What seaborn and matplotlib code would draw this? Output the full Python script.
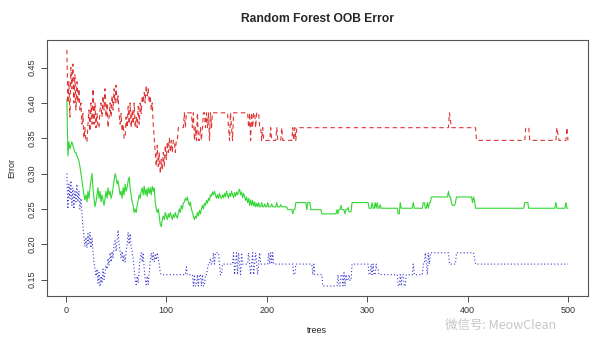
import numpy as np
import pandas as pd
import matplotlib
matplotlib.use("Agg")
import matplotlib.pyplot as plt
import seaborn as sns

# OOB error per number of trees as (error, number of trees it holds)
oob_runs = [
    (0.405, 1), (0.325, 1), (0.345, 1), (0.335, 1), (0.34, 1), (0.345, 1), (0.34, 1), (0.335, 1), (0.33, 1), (0.33, 1),
    (0.325, 1), (0.322, 1), (0.318, 1), (0.31, 1), (0.30, 1), (0.29, 1), (0.28, 1), (0.27, 1), (0.263, 1), (0.27, 1),
    (0.26, 1), (0.275, 1), (0.265, 1), (0.28, 1), (0.29, 1), (0.30, 1), (0.28, 1), (0.265, 1), (0.253, 1), (0.26, 1),
    (0.27, 1), (0.28, 1), (0.265, 1), (0.275, 1), (0.26, 1), (0.27, 1), (0.263, 1), (0.255, 1), (0.265, 1), (0.275, 1),
    (0.265, 1), (0.28, 1), (0.27, 1), (0.275, 1), (0.265, 1), (0.27, 1), (0.28, 1), (0.29, 1), (0.30, 1), (0.295, 1),
    (0.285, 1), (0.29, 1), (0.28, 1), (0.27, 1), (0.275, 1), (0.265, 1), (0.28, 1), (0.27, 1), (0.285, 1), (0.275, 1),
    (0.28, 1), (0.29, 1), (0.295, 1), (0.28, 1), (0.27, 1), (0.26, 1), (0.255, 1), (0.245, 1), (0.25, 1), (0.245, 1),
    (0.255, 1), (0.262, 1), (0.27, 1), (0.265, 1), (0.275, 1), (0.28, 1), (0.27, 1), (0.282, 1), (0.27, 1), (0.278, 1),
    (0.268, 1), (0.28, 1), (0.272, 1), (0.28, 1), (0.27, 1), (0.282, 1), (0.275, 1), (0.28, 1), (0.26, 1), (0.25, 1),
    (0.245, 1), (0.25, 1), (0.24, 1), (0.228, 1), (0.225, 1), (0.235, 1), (0.24, 1), (0.235, 1), (0.245, 1), (0.24, 1),
    (0.235, 1), (0.243, 1), (0.238, 1), (0.245, 1), (0.24, 1), (0.235, 1), (0.242, 1), (0.238, 1), (0.245, 1), (0.24, 1),
    (0.237, 1), (0.243, 1), (0.25, 1), (0.245, 1), (0.255, 1), (0.25, 1), (0.258, 1), (0.26, 1), (0.265, 1), (0.262, 1),
    (0.267, 1), (0.26, 1), (0.255, 1), (0.26, 1), (0.25, 1), (0.245, 1), (0.24, 1), (0.235, 1), (0.24, 1), (0.237, 1),
    (0.245, 1), (0.24, 1), (0.248, 1), (0.243, 1), (0.25, 1), (0.255, 1), (0.25, 1), (0.258, 1), (0.255, 1), (0.262, 1),
    (0.258, 1), (0.265, 1), (0.262, 1), (0.27, 1), (0.268, 1), (0.274, 1), (0.27, 1), (0.275, 1), (0.27, 1), (0.265, 1),
    (0.27, 1), (0.265, 1), (0.272, 1), (0.267, 1), (0.265, 1), (0.27, 1), (0.266, 1), (0.272, 1), (0.267, 1), (0.275, 1),
    (0.27, 1), (0.265, 1), (0.272, 1), (0.268, 1), (0.275, 1), (0.27, 1), (0.266, 1), (0.273, 1), (0.268, 1), (0.274, 1),
    (0.27, 1), (0.275, 1), (0.278, 1), (0.27, 1), (0.274, 1), (0.266, 1), (0.272, 1), (0.267, 1), (0.262, 1), (0.267, 1),
    (0.259, 1), (0.265, 1), (0.255, 1), (0.263, 1), (0.255, 1), (0.262, 1), (0.254, 1), (0.26, 1), (0.253, 1), (0.258, 1),
    (0.253, 1), (0.259, 1), (0.253, 2), (0.259, 1), (0.253, 2), (0.257, 1), (0.253, 2),
    (0.259, 1), (0.253, 3), (0.257, 1), (0.253, 4), (0.259, 1), (0.253, 3), (0.256, 1), (0.253, 6),
    (0.249, 5), (0.243, 1), (0.249, 2), (0.259, 11), (0.249, 1), (0.259, 3), (0.249, 7),
    (0.249, 4), (0.243, 15),
    (0.249, 1), (0.243, 1), (0.249, 2), (0.255, 1), (0.249, 3), (0.243, 1), (0.249, 2), (0.252, 1), (0.246, 3),
    (0.259, 17),
    (0.251, 3), (0.259, 1), (0.251, 2), (0.259, 1), (0.251, 1), (0.259, 1), (0.251, 2), (0.256, 1), (0.251, 2),
    (0.251, 15),
    (0.243, 2), (0.259, 1), (0.251, 12),
    (0.259, 1), (0.251, 9), (0.259, 2), (0.251, 2), (0.259, 1), (0.251, 1), (0.259, 2),
    (0.267, 17), (0.275, 1), (0.267, 2), (0.259, 1), (0.255, 3), (0.259, 1),
    (0.267, 16), (0.259, 1), (0.267, 1), (0.261, 1),
    (0.251, 49), (0.259, 4), (0.251, 27), (0.259, 1), (0.251, 9), (0.259, 1), (0.251, 2),
]

# class 1 error (red dashed)
red_runs = [
    (0.475, 1), (0.40, 1), (0.43, 1), (0.38, 1), (0.45, 1), (0.42, 1), (0.455, 1), (0.40, 1), (0.44, 1), (0.39, 1),
    (0.43, 1), (0.40, 1), (0.42, 1), (0.39, 1), (0.40, 1), (0.37, 1), (0.385, 1), (0.35, 1), (0.365, 1), (0.345, 2),
    (0.37, 1), (0.39, 1), (0.36, 1), (0.40, 1), (0.37, 1), (0.42, 1), (0.37, 1), (0.40, 1), (0.365, 1), (0.385, 1),
    (0.365, 2), (0.39, 1), (0.40, 1), (0.38, 1), (0.41, 1), (0.39, 1), (0.42, 1), (0.38, 1), (0.40, 1),
    (0.365, 1), (0.38, 1), (0.40, 1), (0.38, 1), (0.41, 1), (0.39, 1), (0.42, 1), (0.40, 1), (0.425, 1), (0.40, 1),
    (0.41, 1), (0.385, 1), (0.37, 1), (0.385, 1), (0.36, 1), (0.37, 1), (0.35, 2), (0.38, 1), (0.365, 1),
    (0.395, 1), (0.37, 1), (0.40, 1), (0.365, 1), (0.39, 1), (0.37, 1), (0.40, 1), (0.365, 1), (0.38, 1), (0.365, 1),
    (0.395, 1), (0.37, 1), (0.40, 1), (0.385, 1), (0.41, 1), (0.40, 1), (0.415, 1), (0.40, 1), (0.425, 1), (0.41, 1),
    (0.42, 1), (0.40, 1), (0.41, 1), (0.39, 1), (0.40, 1), (0.37, 1), (0.35, 1), (0.33, 1), (0.31, 1), (0.34, 1),
    (0.31, 1), (0.33, 1), (0.30, 1), (0.32, 1), (0.305, 1), (0.33, 1), (0.31, 1), (0.34, 1), (0.32, 1), (0.345, 1),
    (0.33, 1), (0.35, 1), (0.33, 1), (0.347, 1), (0.33, 1), (0.347, 2), (0.33, 1), (0.347, 2), (0.365, 1),
    (0.365, 5), (0.386, 1), (0.365, 1), (0.386, 6),
    (0.365, 1), (0.386, 1), (0.347, 1), (0.365, 1), (0.347, 1), (0.386, 1), (0.347, 2), (0.365, 1), (0.347, 1), (0.365, 1),
    (0.386, 2), (0.365, 1), (0.386, 1), (0.365, 1), (0.386, 1), (0.347, 1), (0.386, 1), (0.365, 1), (0.386, 1),
    (0.386, 15),
    (0.365, 1), (0.347, 1), (0.386, 1), (0.365, 1), (0.347, 1), (0.386, 1),
    (0.386, 14),
    (0.365, 1), (0.386, 1), (0.347, 1), (0.386, 1), (0.365, 1), (0.386, 2), (0.365, 1), (0.386, 3),
    (0.365, 2), (0.347, 1), (0.365, 1),
    (0.347, 7), (0.365, 1), (0.347, 5), (0.365, 1), (0.347, 4), (0.365, 1), (0.347, 10), (0.365, 1), (0.347, 1),
    (0.365, 1), (0.347, 1),
    (0.365, 152),
    (0.386, 1), (0.375, 1), (0.365, 25),
    (0.347, 49), (0.365, 4), (0.347, 27),
    (0.365, 1), (0.356, 1), (0.347, 8),
    (0.365, 1), (0.347, 1),
]

# class 2 error (blue dotted)
blue_runs = [
    (0.30, 1), (0.25, 1), (0.285, 1), (0.265, 1), (0.29, 1), (0.255, 1), (0.28, 1), (0.25, 1), (0.275, 1), (0.26, 1),
    (0.285, 1), (0.26, 1), (0.275, 1), (0.25, 1), (0.265, 1), (0.245, 1), (0.225, 1), (0.21, 1), (0.197, 1), (0.21, 1),
    (0.195, 1), (0.215, 1), (0.20, 1), (0.217, 1), (0.195, 1), (0.21, 1), (0.19, 1), (0.175, 1), (0.165, 1), (0.155, 1),
    (0.165, 1), (0.145, 1), (0.16, 1), (0.14, 1), (0.155, 1), (0.145, 1), (0.165, 1), (0.15, 1), (0.16, 1), (0.17, 1),
    (0.165, 1), (0.18, 1), (0.17, 1), (0.188, 1), (0.175, 1), (0.19, 1), (0.18, 1), (0.20, 1), (0.205, 1), (0.19, 1),
    (0.205, 1), (0.22, 1), (0.20, 1), (0.19, 1), (0.18, 1), (0.19, 1), (0.175, 1), (0.185, 1), (0.175, 1), (0.19, 1),
    (0.20, 1), (0.217, 1), (0.20, 1), (0.215, 1), (0.195, 1), (0.19, 1), (0.18, 1), (0.165, 1), (0.15, 1), (0.143, 1),
    (0.155, 1), (0.145, 1), (0.165, 1), (0.18, 1), (0.188, 1), (0.175, 1), (0.188, 1), (0.165, 1), (0.15, 1), (0.143, 1),
    (0.155, 1), (0.143, 1), (0.16, 1), (0.175, 1), (0.188, 1), (0.178, 1), (0.188, 1), (0.175, 1), (0.185, 1), (0.178, 1),
    (0.188, 1), (0.18, 1), (0.172, 1), (0.16, 1), (0.157, 25),
    (0.168, 1), (0.157, 6), (0.141, 1), (0.157, 1), (0.141, 2), (0.157, 1), (0.141, 1), (0.157, 2), (0.141, 1),
    (0.157, 1), (0.141, 2), (0.157, 2), (0.165, 1), (0.172, 2),
    (0.18, 1), (0.172, 2), (0.188, 1), (0.172, 1), (0.188, 4), (0.172, 1), (0.157, 2), (0.172, 1),
    (0.172, 10),
    (0.188, 1), (0.157, 1), (0.172, 1), (0.188, 1), (0.157, 1), (0.188, 1), (0.172, 1), (0.157, 1), (0.188, 1), (0.172, 1),
    (0.172, 5), (0.188, 1), (0.172, 1), (0.157, 1), (0.172, 1), (0.188, 1), (0.157, 1), (0.172, 1), (0.188, 1), (0.172, 1),
    (0.157, 1), (0.172, 1), (0.188, 1), (0.172, 8), (0.188, 1), (0.172, 1), (0.188, 1), (0.172, 1), (0.188, 1),
    (0.172, 20), (0.157, 2), (0.172, 17), (0.157, 1), (0.172, 1),
    (0.157, 8), (0.141, 15),
    (0.157, 1), (0.141, 2), (0.157, 2), (0.141, 1), (0.16, 1), (0.141, 1), (0.157, 1), (0.149, 2), (0.157, 1), (0.149, 2),
    (0.172, 17),
    (0.157, 2), (0.172, 1), (0.157, 1), (0.172, 1), (0.157, 2), (0.172, 1), (0.164, 2), (0.157, 4),
    (0.157, 15),
    (0.141, 2), (0.157, 1), (0.141, 1), (0.157, 2), (0.141, 2), (0.157, 7),
    (0.172, 1), (0.157, 9), (0.172, 2), (0.188, 1), (0.172, 1), (0.157, 1), (0.188, 1), (0.172, 1), (0.188, 1),
    (0.188, 18), (0.172, 7),
    (0.188, 18), (0.18, 1),
    (0.172, 93),
]

x_ticks = [0, 100, 200, 300, 400, 500]
y_ticks = [0.15, 0.20, 0.25, 0.30, 0.35, 0.40, 0.45]


def expand(runs):
    vals = [v for v, _ in runs]
    counts = [n for _, n in runs]
    return np.repeat(vals, counts)


frames = []
for name, runs in [("OOB", oob_runs), ("1", red_runs), ("2", blue_runs)]:
    err = expand(runs)
    frames.append(pd.DataFrame({"trees": np.arange(1, len(err) + 1), "Error": err, "series": name}))
df = pd.concat(frames, ignore_index=True)

sns.set_style("white")
plt.rcParams["font.family"] = ["Liberation Sans", "DejaVu Sans"]

fig = plt.figure(figsize=(6, 3.51), dpi=100)
ax = fig.add_axes([0.078, 0.157, 0.902, 0.729])

sns.lineplot(data=df, x="trees", y="Error", hue="series", style="series",
             hue_order=["OOB", "1", "2"], style_order=["OOB", "1", "2"],
             palette={"OOB": "#33D633", "1": "#E03535", "2": "#3A3ACC"},
             dashes={"OOB": "", "1": (4, 3), "2": (1, 2)},
             linewidth=0.8, legend=False, ax=ax)

ax.set_xlim(-19, 520)
ax.set_ylim(0.127, 0.489)
ax.set_xticks(x_ticks)
ax.set_xticklabels([str(t) for t in x_ticks])
ax.set_yticks(y_ticks)
ax.set_yticklabels([f"{t:.2f}" for t in y_ticks], rotation=90, va="center")
ax.tick_params(axis="both", direction="out", length=4, width=0.6, labelsize=6.5,
               colors="#333333", bottom=True, left=True)
for s in ax.spines.values():
    s.set_color("#555555")
    s.set_linewidth(0.8)

ax.set_xlabel("trees", fontsize=6.5, labelpad=8)
ax.set_ylabel("Error", fontsize=6.5, labelpad=8)
ax.set_title("Random Forest OOB Error", fontsize=8.7, fontweight="bold", pad=13)

fig.text(0.835, 0.072, "微信号: MeowClean", fontsize=9, color="#b8b8b8", alpha=0.8,
         ha="center", va="center", family=["Noto Sans CJK SC", "DejaVu Sans"])

fig.savefig("out.png", dpi=100)
